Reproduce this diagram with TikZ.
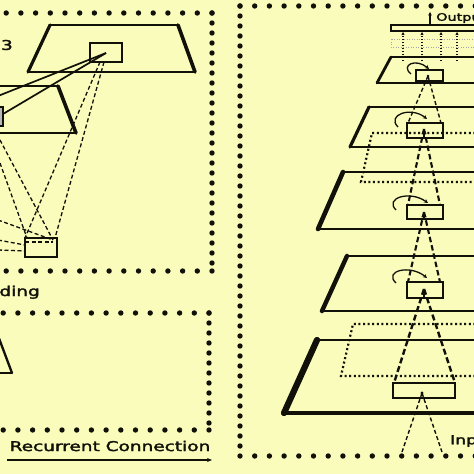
\documentclass[tikz,border=0pt]{standalone}
\usepackage{fontspec}
\setmainfont{DejaVu Sans}
\newfontfamily\labfont[FakeBold=2]{DejaVu Sans}
\usepackage{graphicx}
\usetikzlibrary{arrows.meta}
\definecolor{bg}{RGB}{249,252,186}
\definecolor{ink}{RGB}{17,17,10}
\newcommand{\wide}[1]{\scalebox{1.37}[1]{#1}}
\begin{document}
\begin{tikzpicture}[x=1pt,y=-1pt,
  hdot/.style={draw=ink, line width=5.4pt, dash pattern=on 0pt off 14.7pt, line cap=round},
  vdot/.style={draw=ink, line width=5.4pt, dash pattern=on 0pt off 10pt, line cap=round},
  flat/.style={draw=ink, line width=2.3pt, line cap=square},
  side/.style={draw=ink, line cap=round},
  cell/.style={draw=ink, line width=1.7pt},
  thindash/.style={draw=ink, line width=1.3pt, dash pattern=on 4pt off 2.5pt},
  thickdash/.style={draw=ink, line width=2.1pt, dash pattern=on 5.5pt off 3pt},
  field/.style={draw=ink, line width=2.2pt, dash pattern=on 2pt off 2.6pt},
  loop/.style={draw=ink, line width=1.3pt, -{Stealth[length=4pt,width=4pt]}},
  uptip/.style={draw=ink, line width=1.4pt, -{Stealth[length=5pt,width=5pt]}},
  lab/.style={inner sep=0pt, text=ink, font=\fontsize{13.5}{15}\labfont}
]
\useasboundingbox (0,0) rectangle (474,474);
\clip (0,0) rectangle (474,474);
\fill[bg] (0,0) rectangle (474,474);

%%% ---------- left top box ----------
\draw[hdot] (212,13) -- (0,13);
\draw[vdot] (212,13) -- (212,271);
\draw[hdot] (212,271) -- (0,271);
\node[lab, anchor=east] (lay3) at (13,45) {\wide{3}};

% top trapezoid
\draw[flat] (50,25) -- (178,25);
\draw[flat, line width=2.6pt] (28,72) -- (195,72);
\draw[side, line width=3.2pt] (50,25) -- (28,72);
\draw[side, line width=3.6pt] (178,25) -- (195,72);
\draw[cell, line width=1.6pt] (90,43) rectangle (122,62);
\coordinate (p0) at (106,53);
\coordinate (p0a) at (100,62);
\coordinate (p0b) at (104,62);

% second trapezoid (cut)
\draw[flat] (-5,86) -- (58,86);
\draw[flat, line width=2.6pt] (-5,133) -- (76,133);
\draw[side, line width=3.6pt] (58,86) -- (76,133);
\draw[cell, fill=gray!55] (-5,107) rectangle (3,126);
\coordinate (c2) at (3,114);
\coordinate (e1) at (-2,96);
\draw[ink, line width=1.7pt] (p0) -- (e1);
\draw[ink, line width=1.7pt] (p0) -- (c2);

% lower cell
\draw[cell, line width=2.1pt] (25,238) rectangle (57,257);
\coordinate (q1) at (25,238);
\coordinate (q2) at (55,238);
\coordinate (q3) at (53,240);
\coordinate (q4) at (27,238);
\draw[thindash] (p0a) -- (q1);
\draw[thindash] (p0b) -- (q2);
\coordinate (l1) at (0,140);
\coordinate (l2) at (0,163);
\coordinate (l3) at (-2,220);
\coordinate (l4) at (-2,240);
\coordinate (l5) at (-2,250);
\draw[thindash] (l1) -- (q3);
\draw[thindash] (l2) -- (q4);
\draw[thindash] (l3) -- (q3);
\draw[thindash] (l4) -- (25,245);
\draw[thindash] (l5) -- (25,251);
\draw[thindash] (25,242) -- (53,242);

\node[lab, anchor=base east] (ding) at (40,296) {\wide{ding}};

%%% ---------- left bottom box ----------
\draw[hdot] (209,313) -- (0,313);
\draw[vdot] (209,313) -- (209,430);
\draw[hdot] (209,430) -- (0,430);
\draw[side, line width=2.3pt] (-3,333) -- (12,373);
\draw[flat] (-5,373) -- (12,373);

\node[lab] (rc) at (110,446) {\wide{Recurrent Connection}};
\coordinate (ra) at (7,460);
\coordinate (rb) at (212,460);
\draw[ink, line width=1.1pt, -{Stealth[length=5pt,width=4pt]}] (ra) -- (rb);

%%% ---------- right box ----------
\draw[hdot] (240,6) -- (480,6);
\draw[vdot] (240,6) -- (240,456);
\draw[hdot] (240,456) -- (480,456);

% output
\draw[cell, line width=1.6pt] (391,25) rectangle (480,31);
\draw[gray!70, line width=1pt, dash pattern=on 1pt off 1.5pt] (391,39) rectangle (480,47);
\coordinate (oa) at (430,25);
\coordinate (ob) at (430,12);
\draw[ink, line width=1.1pt, -{Stealth[length=3.5pt,width=3.5pt]}] (oa) -- (ob);
\node[inner sep=0pt, anchor=west, text=ink, font=\fontsize{10.5}{12}\labfont] (out) at (436,18) {\wide{Outpu}};
\foreach \x in {403,422,441,457}
  \draw[ink, line width=1.4pt, dash pattern=on 1.5pt off 1.5pt, -{Stealth[length=3pt,width=3pt]}] (\x,61) -- (\x,32);

% layer R1
\draw[flat] (391,57) -- (480,57);
\draw[flat, line width=2.6pt] (377,83) -- (480,83);
\draw[side, line width=2.8pt] (391,57) -- (377,83);
\draw[cell, line width=1.6pt] (416,70) rectangle (443,81);
\coordinate (d1) at (428,76);
\fill[ink] (d1) circle (1.4pt);
\draw[loop] (411,74) .. controls (400,65) and (416,58) .. (429,69);

% layer R2
\draw[flat, line width=2.6pt] (369,107) -- (480,107);
\draw[flat, line width=2.6pt] (350,147) -- (480,147);
\draw[side, line width=3.2pt] (369,107) -- (350,147);
\draw[cell, line width=1.9pt] (407,123) rectangle (443,138);
\coordinate (d2) at (424,129);
\draw[loop] (398,127) .. controls (386,115) and (411,106) .. (427,119);
\draw[thindash, line width=1.4pt] (d1) -- (408,123);
\draw[thindash, line width=1.4pt] (d1) -- (441,123);

\draw[field] (480,133) -- (372,133) -- (361,182) -- (480,182);

% layer R3
\draw[flat, line width=2.6pt] (343,172) -- (480,172);
\draw[flat, line width=2.6pt] (318,229) -- (480,229);
\draw[side, line width=4.6pt] (343,172) -- (318,229);
\draw[cell, line width=1.9pt] (407,205) rectangle (443,219);
\coordinate (d3) at (424,212);
\draw[loop] (396,210) .. controls (384,198) and (410,190) .. (428,203);
\draw[thickdash] (d2) -- (408,205);
\draw[thickdash] (d2) -- (440,205);
\draw[uptip] (424,137) -- (d2);

% layer R4
\draw[flat, line width=2.6pt] (347,256) -- (480,256);
\draw[flat, line width=2.6pt] (322,311) -- (480,311);
\draw[side, line width=4.4pt] (347,256) -- (322,311);
\draw[cell, line width=1.9pt] (407,282) rectangle (443,298);
\coordinate (d4) at (424,289);
\draw[loop] (396,283) .. controls (383,271) and (410,264) .. (427,278);
\draw[thickdash] (d3) -- (408,282);
\draw[thickdash] (d3) -- (440,282);
\draw[uptip] (424,220) -- (d3);

\draw[field] (480,324) -- (353,324) -- (341,376) -- (480,376);

% layer R5
\draw[flat, line width=2.6pt] (317,340) -- (480,340);
\draw[flat, line width=3.1pt] (284,413) -- (480,413);
\draw[side, line width=6.2pt] (317,340) -- (284,413);
\draw[cell, line width=2.3pt] (393,383) rectangle (455,398);
\coordinate (d5) at (422,393);
\fill[ink] (d5) circle (1.6pt);
\draw[thickdash, line width=2.4pt, dash pattern=on 6pt off 3pt] (d4) -- (394,383);
\draw[thickdash, line width=2.4pt, dash pattern=on 6pt off 3pt] (d4) -- (455,383);
\draw[uptip, line width=1.9pt] (424,298) -- (d4);

\coordinate (i1) at (402,452);
\coordinate (i2) at (442,452);
\draw[thindash, line width=1.4pt] (d5) -- (i1);
\draw[thindash, line width=1.4pt] (d5) -- (i2);
\node[lab, anchor=west, font=\fontsize{12.5}{14}\labfont] (inp) at (450,441) {\wide{Inp}};
\end{tikzpicture}
\end{document}
